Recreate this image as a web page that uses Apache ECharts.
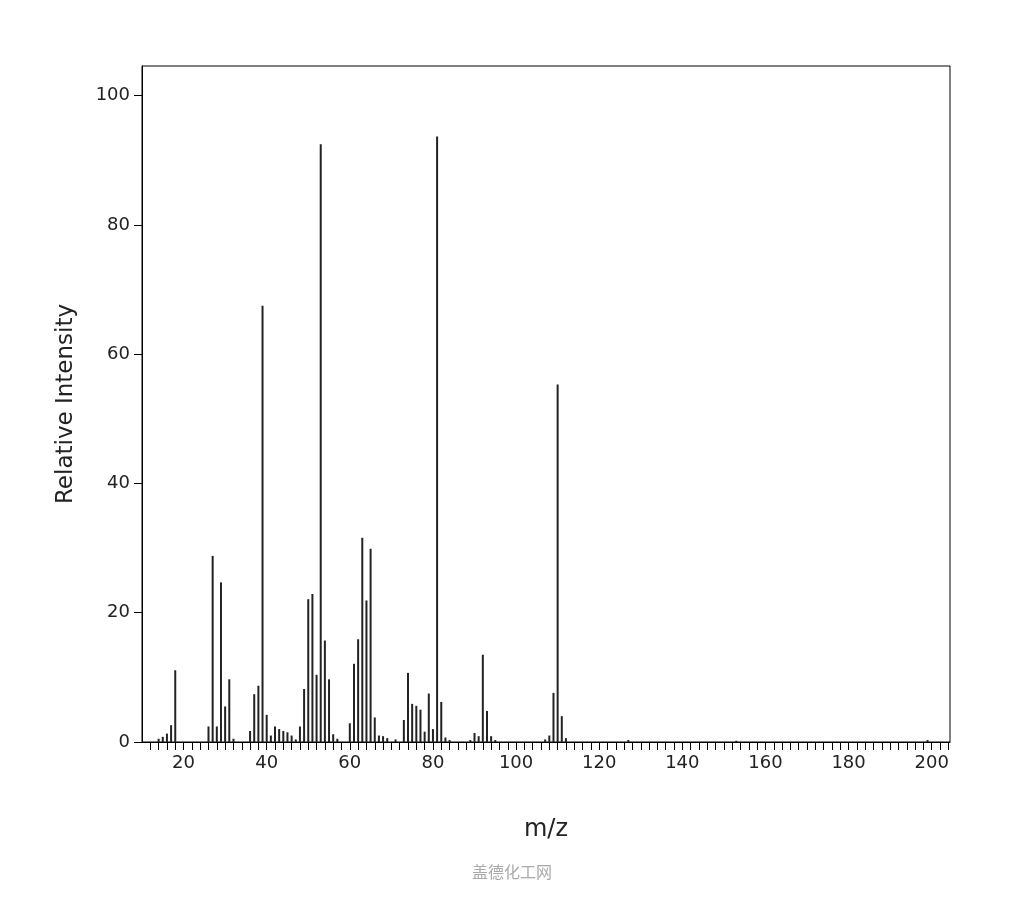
<!DOCTYPE html>
<html><head><meta charset="utf-8">
<script src="https://cdn.jsdelivr.net/npm/echarts@6/dist/echarts.min.js"></script>
<style>html,body{margin:0;padding:0;background:#fff}#c{width:1024px;height:900px}</style>
</head><body><div id="c"></div>
<script>
const mz = [14,15,16,17,18,26,27,28,29,30,31,32,36,37,38,39,40,41,42,43,44,45,46,47,48,49,50,51,52,53,54,55,56,57,60,61,62,63,64,65,66,67,68,69,71,73,74,75,76,77,78,79,80,81,82,83,84,89,90,91,92,93,94,95,107,108,109,110,111,112,127,153,199];
const intensity = [0.5,0.8,1.3,2.6,11.1,2.4,28.8,2.4,24.7,5.5,9.7,0.5,1.7,7.4,8.7,67.5,4.2,1.0,2.4,2.0,1.7,1.5,1.0,0.4,2.4,8.2,22.1,22.9,10.4,92.5,15.7,9.7,1.2,0.5,2.9,12.1,15.9,31.6,21.9,29.9,3.8,1.0,0.9,0.6,0.4,3.4,10.7,5.9,5.6,5.0,1.6,7.5,2.0,93.7,6.2,0.7,0.3,0.3,1.4,0.9,13.5,4.8,0.9,0.3,0.4,1.0,7.6,55.3,4.0,0.6,0.3,0.2,0.3];
const xLabels = [20,40,60,80,100,120,140,160,180,200];
const yLabels = [0,20,40,60,80,100];
const xTicks = []; for (let v = 12; v <= 204; v += 2) xTicks.push(v);
const chart = echarts.init(document.getElementById('c'));
const font = 'DejaVu Sans';
chart.setOption({
  animation:false,
  grid:{left:142,right:74,top:66,bottom:158,show:true,borderColor:'#000',borderWidth:1},
  xAxis:{type:'value',min:10.0,max:204.4,name:'m/z',nameLocation:'middle',nameGap:76,
    nameTextStyle:{fontFamily:font,fontSize:24,color:'#222'},
    axisLine:{show:true,lineStyle:{color:'#000'}},splitLine:{show:false},
    axisTick:{show:true,length:8,customValues:xTicks,lineStyle:{color:'#000'}},
    axisLabel:{customValues:xLabels,fontFamily:font,fontSize:18,color:'#222',margin:12}},
  yAxis:{type:'value',min:0,max:104.6,name:'Relative Intensity',nameLocation:'middle',nameGap:64,
    nameTextStyle:{fontFamily:font,fontSize:23,color:'#222'},
    axisLine:{show:true,lineStyle:{color:'#000'}},splitLine:{show:false},
    axisTick:{show:true,length:8,customValues:yLabels,lineStyle:{color:'#000'}},
    axisLabel:{customValues:yLabels,fontFamily:font,fontSize:18,color:'#222',margin:12}},
  series:[{type:'bar',barWidth:2,itemStyle:{color:'#222'},data:mz.map((m,i)=>[m,intensity[i]])}],
  graphic:[{type:'text',left:'center',top:864,style:{text:'盖德化工网',fontFamily:'Noto Sans CJK SC',fontSize:16,fill:'#aaa'}}]
});
</script></body></html>
